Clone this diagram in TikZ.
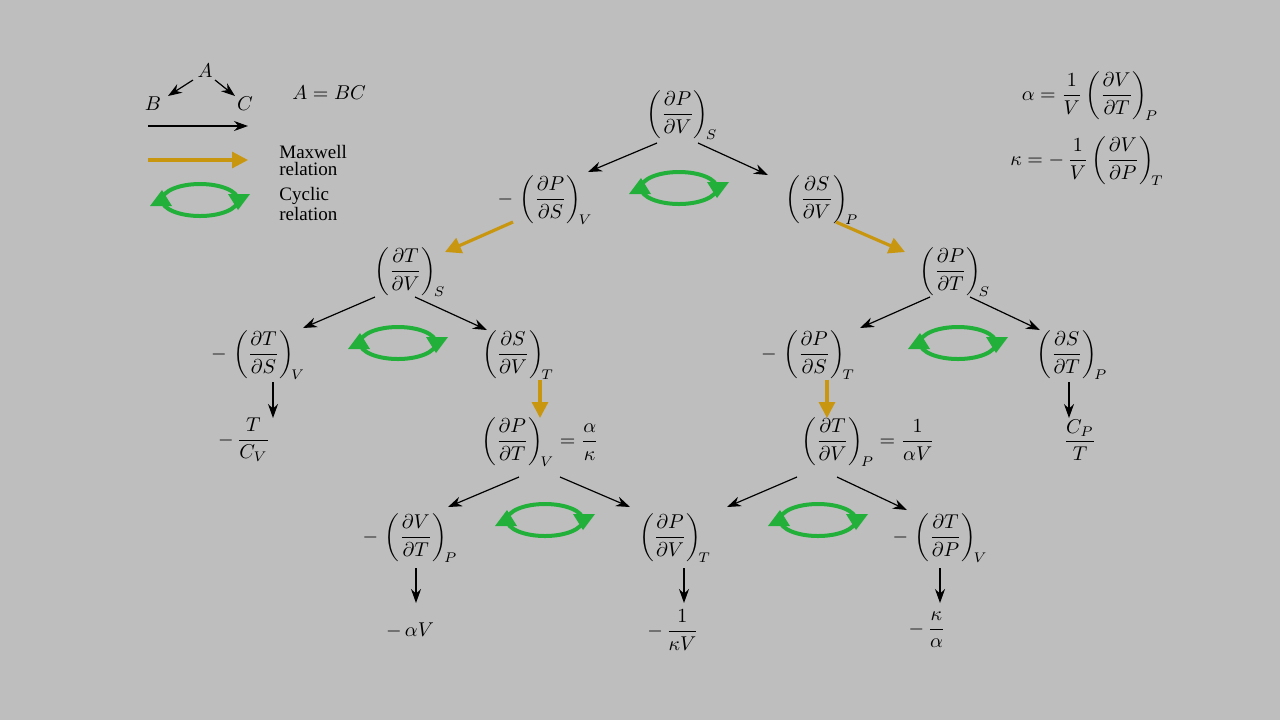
\documentclass[tikz,border=0pt]{standalone}
\usepackage{amsmath}
\usepackage{fontspec}
\setmainfont{Liberation Serif}
\usetikzlibrary{arrows.meta}
\definecolor{bg}{RGB}{190,190,190}
\definecolor{gold}{RGB}{200,150,15}
\definecolor{grn}{RGB}{34,176,58}
\newcommand{\pd}[3]{\left(\dfrac{\partial #1}{\partial #2}\right)_{\!#3}}
\tikzset{
 m/.style={inner sep=1pt},
 lg/.style={anchor=west,align=left,inner sep=0pt,font=\fontsize{9.5}{8.5}\selectfont},
 blk/.style={-{Stealth[length=7pt,width=5pt]},line width=0.6pt},
 mx/.style={-{Triangle[length=8pt,width=8pt]},gold,line width=1.6pt},
 cyc/.pic={
   \draw[grn,line width=2pt] (0,0) ellipse (38 and 16);
   \fill[grn] (-50,6) -- (-28,6) -- (-38,-10) -- cycle;
   \fill[grn] (50,-6) -- (28,-6) -- (38,10) -- cycle;
 }
}
\begin{document}
\begin{tikzpicture}[x=0.5pt,y=-0.5pt]
\fill[bg] (0,0) rectangle (1280,720);
\useasboundingbox (0,0) rectangle (1280,720);
% legend
\node[m] (LA) at (205,71) {$A$};
\node[m] (LB) at (153,104) {$B$};
\node[m] (LC) at (245,104) {$C$};
\draw[blk] (193,80) -- (168,96);
\draw[blk] (215,80) -- (235,96);
\node[m,anchor=west] (LE) at (290,93) {$A=BC$};
\coordinate (k1) at (148,126); \coordinate (k2) at (248,126);
\draw[blk] (k1) -- (k2);
\coordinate (g1) at (148,160); \coordinate (g2) at (248,160);
\draw[mx] (g1) -- (g2);
\node[lg] (LM) at (279,160) {Maxwell\\relation};
\pic at (200,200) {cyc};
\node[lg] (LCy) at (279,204) {Cyclic\\relation};
% definitions
\node[m] (dA) at (1090,96) {$\alpha=\dfrac{1}{V}\left(\dfrac{\partial V}{\partial T}\right)_{\!P}$};
\node[m] (dK) at (1087,161) {$\kappa=-\,\dfrac{1}{V}\left(\dfrac{\partial V}{\partial P}\right)_{\!T}$};
% tree
\node[m] (n0) at (682,115) {$\pd PVS$};
\node[m] (n1) at (545,200) {$-\,\pd PSV$};
\node[m] (n2) at (822,200) {$\pd SVP$};
\pic at (679,188) {cyc};
\node[m] (n3) at (410,272) {$\pd TVS$};
\node[m] (n4) at (955,272) {$\pd PTS$};
\node[m] (n5) at (258,355) {$-\,\pd TSV$};
\node[m] (n6) at (518,355) {$\pd SVT$};
\node[m] (n7) at (808,355) {$-\,\pd PST$};
\node[m] (n8) at (1072,355) {$\pd STP$};
\pic at (398,343) {cyc};
\pic at (958,343) {cyc};
\node[m] (n9) at (244,440) {$-\,\dfrac{T}{C_V}$};
\node[m] (n10) at (540,442) {$\pd PTV=\dfrac{\alpha}{\kappa}$};
\node[m] (n11) at (868,442) {$\pd TVP=\dfrac{1}{\alpha V}$};
\node[m] (n12) at (1080,440) {$\dfrac{C_P}{T}$};
\node[m] (n13) at (410,538) {$-\,\pd VTP$};
\node[m] (n14) at (675,538) {$\pd PVT$};
\node[m] (n15) at (940,538) {$-\,\pd TPV$};
\pic at (545,520) {cyc};
\pic at (818,520) {cyc};
\node[m] (n16) at (410,630) {$-\,\alpha V$};
\node[m] (n17) at (673,630) {$-\,\dfrac{1}{\kappa V}$};
\node[m] (n18) at (927,630) {$-\,\dfrac{\kappa}{\alpha}$};
% connectors
\draw[blk] (657,143) -- (588,172);
\draw[blk] (698,143) -- (768,175);
\draw[mx] (513,222) -- (445,252);
\draw[mx] (836,222) -- (905,252);
\draw[blk] (375,297) -- (303,328);
\draw[blk] (415,297) -- (487,330);
\draw[blk] (930,297) -- (860,328);
\draw[blk] (970,297) -- (1040,330);
\draw[blk] (273,382) -- (273,418);
\draw[mx] (540,380) -- (540,418);
\draw[mx] (827,380) -- (827,418);
\draw[blk] (1069,382) -- (1069,418);
\draw[blk] (519,477) -- (448,507);
\draw[blk] (560,477) -- (630,507);
\draw[blk] (797,477) -- (727,507);
\draw[blk] (837,477) -- (907,510);
\draw[blk] (416,568) -- (416,603);
\draw[blk] (684,568) -- (684,603);
\draw[blk] (940,568) -- (940,603);
\end{tikzpicture}
\end{document}
